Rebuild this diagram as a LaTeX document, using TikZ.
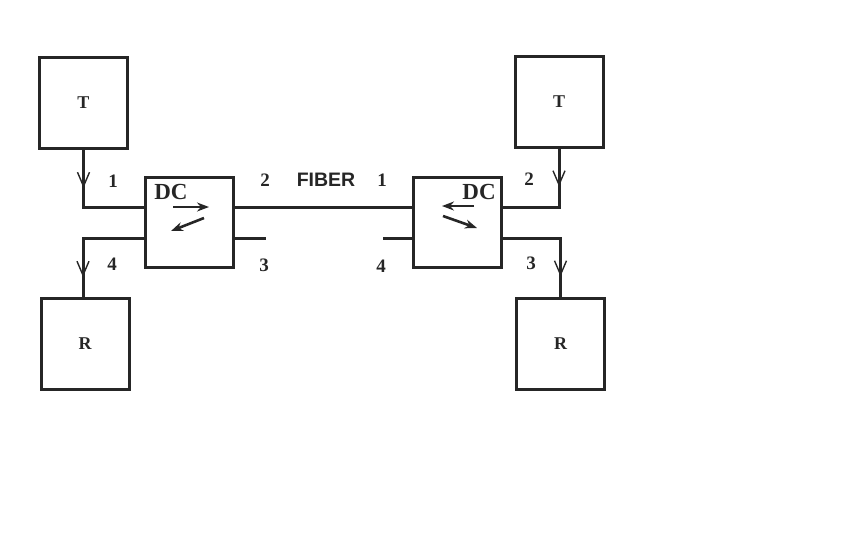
\documentclass[tikz,border=0pt]{standalone}
\usepackage{fontspec}
\setmainfont{Liberation Serif}
\setsansfont{Liberation Sans}
\usetikzlibrary{arrows.meta,decorations.markings}

\definecolor{inkgray}{HTML}{262626}

\tikzset{
    unit/.style={draw=inkgray,line width=3pt,minimum width=88pt,minimum height=91pt,inner sep=0pt,font=\fontsize{18}{18}\selectfont\bfseries,text=inkgray},
    coupler/.style={draw=inkgray,line width=3pt,minimum width=88pt,minimum height=90pt,inner sep=0pt},
    link/.style={draw=inkgray,line width=3pt},
    flow/.style={draw=inkgray,line width=2.6pt,-{Stealth[length=12pt,width=9pt]}},
    downmark/.style={postaction={decorate},decoration={markings,mark=at position #1 with {\arrow[inkgray,line width=1.4pt]{Straight Barb[length=14pt,width=12pt]}}}},
    portlabel/.style={text=inkgray,font=\fontsize{19}{19}\selectfont\bfseries,inner sep=0pt},
    dclabel/.style={text=inkgray,font=\fontsize{23}{23}\selectfont\bfseries,inner sep=0pt},
}

\begin{document}
\begin{tikzpicture}[x=1pt,y=-1pt]
    \useasboundingbox (0,0) rectangle (848,542);

    % terminals and receivers
    \node[unit] (tleft) at (83.5,103) {T};
    \node[unit] (rleft) at (85,343.5) {R};
    \node[unit] (tright) at (559,101.5) {T};
    \node[unit] (rright) at (560.5,344) {R};

    % couplers
    \node[coupler] (dcleft) at (189,222.5) {};
    \node[coupler] (dcright) at (457,222) {};

    % port points on the coupler sides
    \coordinate (portla) at (145,207);
    \coordinate (portlb) at (145,238);
    \coordinate (portlc) at (233,207);
    \coordinate (portld) at (233,238);
    \coordinate (portra) at (413,207);
    \coordinate (portrb) at (413,238);
    \coordinate (portrc) at (501,207);
    \coordinate (portrd) at (501,238);
    \coordinate (stubl) at (266,238);
    \coordinate (stubr) at (383,238);
    \coordinate (inrl) at (83,298);

    % connectors
    \draw[link,downmark=38pt] (tleft.south) |- (portla);
    \draw[link,downmark=101pt] (portlb) -| (inrl);
    \draw[link] (portlc) -- (portra);
    \draw[link] (portld) -- (stubl);
    \draw[link] (portrb) -- (stubr);
    \draw[link,downmark=38pt] (tright.south) |- (portrc);
    \draw[link,downmark=98pt] (portrd) -| (rright.north);

    % arrows inside the couplers
    \draw[flow] (173,207) -- (209,207);
    \draw[flow] (204,218) -- (171,231);
    \draw[flow] (474,206) -- (442,206);
    \draw[flow] (443,216) -- (477,228);

    % labels
    \node[dclabel] (dcleftlabel) at (171,192) {DC};
    \node[dclabel] (dcrightlabel) at (479,192) {DC};
    \node[portlabel] (la) at (113,181) {1};
    \node[portlabel] (lb) at (112,264) {4};
    \node[portlabel] (lc) at (265,180) {2};
    \node[portlabel] (ld) at (264,265) {3};
    \node[portlabel,font=\fontsize{19.5}{19.5}\selectfont\bfseries\sffamily] (fiber) at (326,180) {FIBER};
    \node[portlabel] (ra) at (382,180) {1};
    \node[portlabel] (rb) at (381,266) {4};
    \node[portlabel] (rc) at (529,179) {2};
    \node[portlabel] (rd) at (531,263) {3};

\end{tikzpicture}
\end{document}
